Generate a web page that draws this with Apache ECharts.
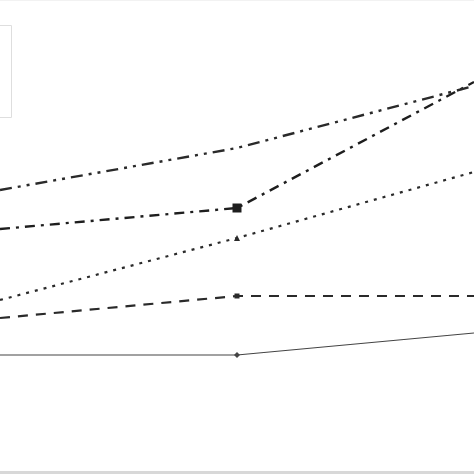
<!DOCTYPE html>
<html>
<head>
<meta charset="utf-8">
<script src="https://cdn.jsdelivr.net/npm/echarts@6/dist/echarts.min.js"></script>
<style>html,body{margin:0;padding:0;background:#fff;}#c{width:474px;height:474px;}</style>
</head>
<body>
<div id="c"></div>
<script>
var categories = ['A', 'B', 'C'];
var seriesSolid = [117, 117, 139];
var seriesDashed = [154, 176, 176];
var seriesDotted = [172, 234, 300];
var seriesDashDot = [243, 264, 390];
var seriesDashDotDot = [282, 324, 386];

var chart = echarts.init(document.getElementById('c'), null, {renderer: 'canvas'});
function mk(name, data, type, width, color, symbol, size) {
  return {
    name: name, type: 'line', data: data, animation: false,
    symbol: symbol,
    symbolSize: function (v, p) { return p.dataIndex === 1 ? size : 0; },
    showSymbol: true,
    itemStyle: {color: color},
    lineStyle: {type: type, width: width, color: color}
  };
}
chart.setOption({
  backgroundColor: '#fff',
  animation: false,
  grid: {left: 0, right: 0, top: 0, bottom: 2, containLabel: false},
  xAxis: {
    type: 'category', data: categories, boundaryGap: false,
    axisLine: {show: true, lineStyle: {color: '#d8d8d8', width: 3}},
    axisTick: {show: false}, axisLabel: {show: false}, splitLine: {show: false}
  },
  yAxis: {
    type: 'value', min: 0, max: 472,
    axisLine: {show: false}, axisTick: {show: false}, axisLabel: {show: false}, splitLine: {show: false}
  },
  graphic: [
    {type: 'rect', shape: {x: -10, y: 25.5, width: 21.5, height: 92}, style: {fill: 'none', stroke: '#dedede', lineWidth: 1}},
    {type: 'line', shape: {x1: 0, y1: 0.5, x2: 474, y2: 0.5}, style: {stroke: '#f2f2f2', lineWidth: 1}}
  ],
  series: [
    mk('s1', seriesSolid, 'solid', 1.2, '#444', 'diamond', 6),
    mk('s2', seriesDashed, [10, 8], 2.2, '#2a2a2a', 'rect', 5),
    mk('s3', seriesDotted, [3, 6], 2.2, '#2a2a2a', 'triangle', 6),
    mk('s4', seriesDashDot, [10, 6, 3, 6], 2.4, '#1e1e1e', 'rect', 9),
    mk('s5', seriesDashDotDot, [12, 6, 3, 6, 3, 6], 2.4, '#2a2a2a', 'none', 0)
  ]
});
</script>
</body>
</html>
